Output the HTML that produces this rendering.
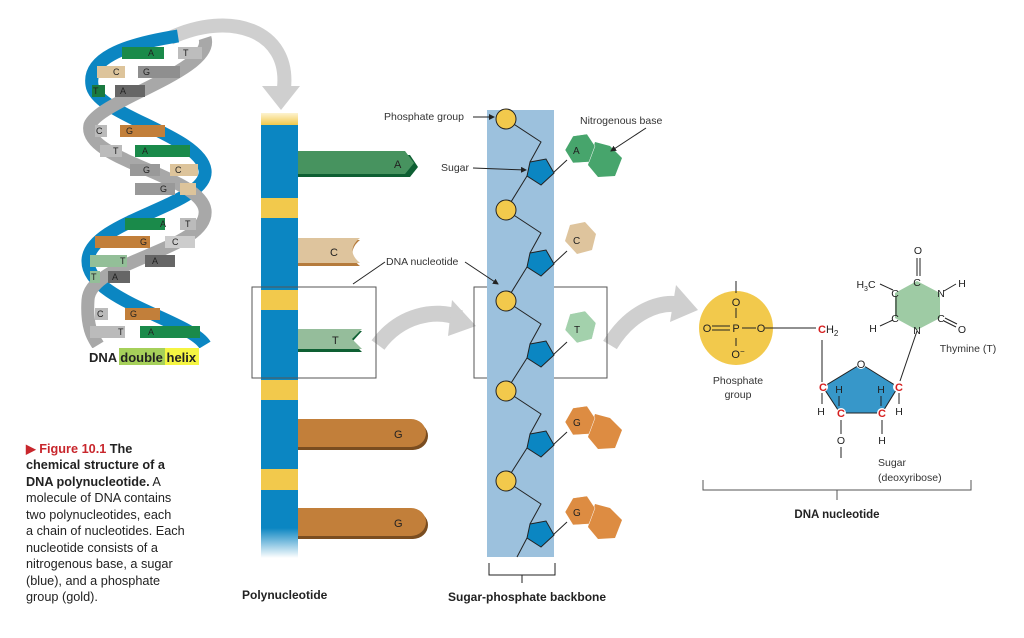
<!DOCTYPE html>
<html><head><meta charset="utf-8"><style>
html,body{margin:0;padding:0;background:#fff;}
svg{display:block;font-family:"Liberation Sans",sans-serif;}
</style></head><body>
<svg width="1024" height="638" viewBox="0 0 1024 638" xmlns="http://www.w3.org/2000/svg">
<defs>
<linearGradient id="topfade" x1="0" y1="0" x2="0" y2="1"><stop offset="0" stop-color="#fdf3d0"/><stop offset="1" stop-color="#f2c94c"/></linearGradient>
<linearGradient id="botfade" x1="0" y1="0" x2="0" y2="1"><stop offset="0" stop-color="#0b86c2"/><stop offset="1" stop-color="#0b86c2" stop-opacity="0"/></linearGradient>
<marker id="ah" markerWidth="6" markerHeight="6" refX="5" refY="3" orient="auto"><path d="M0,0 L6,3 L0,6 z" fill="#222"/></marker>
</defs>

<!-- big gray arrows -->
<path d="M170,38 C230,10 290,30 284,88" fill="none" stroke="#cfcfcf" stroke-width="14"/>
<polygon points="262,86 300,86 281,110" fill="#cfcfcf"/>
<path d="M378,345 C400,315 435,308 460,318" fill="none" stroke="#cfcfcf" stroke-width="16"/>
<polygon points="452,300 476,326 448,336" fill="#cfcfcf"/>
<path d="M610,345 C630,312 660,300 682,305" fill="none" stroke="#cfcfcf" stroke-width="16"/>
<polygon points="676,285 698,310 670,322" fill="#cfcfcf"/>

<!-- helix -->
<g>
<path d="M178,36 C120,45 88,60 92,85 C96,115 200,135 205,170 C210,205 90,220 88,260 C86,300 190,320 205,345" fill="none" stroke="#0b86c2" stroke-width="13"/>
<path d="M205,38 C215,70 100,100 90,125 C82,160 200,175 205,210 C210,250 90,260 88,300 C86,330 95,340 98,345" fill="none" stroke="#a8a8a8" stroke-width="13"/>
<g font-size="9" fill="#222">
<rect x="122" y="47" width="42" height="12" fill="#1a8a4a"/><text x="148" y="56">A</text><rect x="178" y="47" width="24" height="12" fill="#bdbdbd"/><text x="183" y="56">T</text>
<rect x="97" y="66" width="28" height="12" fill="#ddc49b"/><text x="113" y="75">C</text><rect x="138" y="66" width="42" height="12" fill="#8f8f8f"/><text x="143" y="75">G</text>
<rect x="92" y="85" width="13" height="12" fill="#1a7a40"/><text x="93" y="94">T</text><rect x="115" y="85" width="30" height="12" fill="#666"/><text x="120" y="94">A</text>
<rect x="95" y="125" width="12" height="12" fill="#bbb"/><text x="96" y="134">C</text><rect x="120" y="125" width="45" height="12" fill="#c27f3a"/><text x="126" y="134">G</text>
<rect x="100" y="145" width="22" height="12" fill="#bbb"/><text x="113" y="154">T</text><rect x="135" y="145" width="55" height="12" fill="#1a8a4a"/><text x="142" y="154">A</text>
<rect x="130" y="164" width="30" height="12" fill="#999"/><text x="143" y="173">G</text><rect x="170" y="164" width="28" height="12" fill="#ddc49b"/><text x="175" y="173">C</text>
<rect x="135" y="183" width="40" height="12" fill="#999"/><text x="160" y="192">G</text><rect x="180" y="183" width="16" height="12" fill="#ddc49b"/>
<rect x="125" y="218" width="40" height="12" fill="#1a8a4a"/><text x="160" y="227">A</text><rect x="180" y="218" width="16" height="12" fill="#bbb"/><text x="185" y="227">T</text>
<rect x="95" y="236" width="55" height="12" fill="#c27f3a"/><text x="140" y="245">G</text><rect x="165" y="236" width="30" height="12" fill="#ccc"/><text x="172" y="245">C</text>
<rect x="90" y="255" width="37" height="12" fill="#93bf98"/><text x="120" y="264">T</text><rect x="145" y="255" width="30" height="12" fill="#666"/><text x="152" y="264">A</text>
<rect x="90" y="271" width="10" height="12" fill="#93bf98"/><text x="91" y="280">T</text><rect x="108" y="271" width="22" height="12" fill="#666"/><text x="112" y="280">A</text>
<rect x="95" y="308" width="13" height="12" fill="#bbb"/><text x="97" y="317">C</text><rect x="125" y="308" width="35" height="12" fill="#c27f3a"/><text x="130" y="317">G</text>
<rect x="90" y="326" width="35" height="12" fill="#bbb"/><text x="118" y="335">T</text><rect x="140" y="326" width="60" height="12" fill="#1a8a4a"/><text x="148" y="335">A</text>
</g>
</g>
<rect x="86" y="348" width="120" height="18" fill="#fff"/>
<rect x="119" y="348" width="46" height="17" fill="#a6d05a"/>
<rect x="165" y="348" width="34" height="17" fill="#f5f542"/>
<text x="89" y="362" font-size="13" font-weight="bold" fill="#222">DNA double helix</text>

<!-- polynucleotide bar -->
<rect x="261" y="125" width="37" height="403" fill="#0b86c2"/>
<rect x="261" y="528" width="37" height="30" fill="url(#botfade)"/>
<rect x="261" y="113" width="37" height="12" fill="url(#topfade)"/>
<rect x="261" y="198" width="37" height="20" fill="#f2c94c"/>
<rect x="261" y="290" width="37" height="20" fill="#f2c94c"/>
<rect x="261" y="380" width="37" height="20" fill="#f2c94c"/>
<rect x="261" y="469" width="37" height="21" fill="#f2c94c"/>
<!-- A -->
<polygon points="298,155 410,155 418,167 410,177 298,177" fill="#0e5f33"/>
<polygon points="298,151 405,151 414,163 405,174 298,174" fill="#47935f"/>
<text x="394" y="168" font-size="11" fill="#222">A</text>
<!-- C -->
<path d="M298,240 L360,240 C350,248 350,258 360,266 L298,266 Z" fill="#b57b3c"/>
<path d="M298,238 L360,238 C350,246 350,255 360,263 L298,263 Z" fill="#dec49d"/>
<text x="330" y="256" font-size="11" fill="#222">C</text>
<!-- T -->
<polygon points="298,331 362,331 352,342 362,352 298,352" fill="#0e5f33"/>
<polygon points="298,329 362,329 352,339 362,349 298,349" fill="#95bd9b"/>
<text x="332" y="344" font-size="11" fill="#222">T</text>
<!-- G -->
<path d="M298,422 L413,422 A15,14 0 0 1 413,450 L298,450 Z" fill="#7a4d20"/>
<path d="M298,419 L411,419 A15,14 0 0 1 411,447 L298,447 Z" fill="#c27f3a"/>
<text x="394" y="438" font-size="11" fill="#222">G</text>
<path d="M298,511 L413,511 A15,14 0 0 1 413,539 L298,539 Z" fill="#7a4d20"/>
<path d="M298,508 L411,508 A15,14 0 0 1 411,536 L298,536 Z" fill="#c27f3a"/>
<text x="394" y="527" font-size="11" fill="#222">G</text>
<text x="242" y="599" font-size="12" font-weight="bold" fill="#222">Polynucleotide</text>

<!-- boxes -->
<rect x="252" y="287" width="124" height="91" fill="none" stroke="#555" stroke-width="1"/>
<rect x="474" y="287" width="133" height="91" fill="none" stroke="#555" stroke-width="1"/>

<!-- backbone -->
<rect x="487" y="110" width="67" height="447" fill="#9cc1dd"/>
<g stroke="#222" stroke-width="1">
<line x1="527" y1="176" x2="506" y2="210"/>
<line x1="527" y1="267" x2="506" y2="301"/>
<line x1="527" y1="358" x2="506" y2="391"/>
<line x1="527" y1="448" x2="506" y2="481"/>
<line x1="527" y1="538" x2="517" y2="557"/>
</g>
<g id="u">
<polyline points="506,119 541,142 530,162" fill="none" stroke="#222" stroke-width="1"/>
<line x1="553" y1="173" x2="567" y2="160" stroke="#222" stroke-width="1"/>
<circle cx="506" cy="119" r="10" fill="#f2c94c" stroke="#222" stroke-width="1"/>
<polygon points="530,162 546,159 554,173 541,185 527,176" fill="#0b86c2" stroke="#222" stroke-width="1"/>
</g>
<use href="#u" transform="translate(0,91)"/>
<use href="#u" transform="translate(0,182)"/>
<use href="#u" transform="translate(0,272)"/>
<use href="#u" transform="translate(0,362)"/>
<!-- bases -->
<polygon points="595,142 610,146 622,158 615,176 598,177 588,165" fill="#47a56c"/>
<polygon points="573,136 587,134 595,146 589,162 573,163 565,150" fill="#47a56c" stroke="#fff" stroke-width="0.5"/>
<text x="573" y="154" font-size="10" fill="#222">A</text>
<polygon points="570,225 585,222 596,234 592,250 577,254 565,241" fill="#dec49d"/>
<text x="573" y="244" font-size="10" fill="#222">C</text>
<polygon points="570,314 585,311 596,323 592,339 577,343 565,330" fill="#a3d1ac" stroke="#fff" stroke-width="0.5"/>
<text x="574" y="333" font-size="10" fill="#222">T</text>
<g id="gb">
<polygon points="595,414 610,418 622,430 615,448 598,449 588,437" fill="#dd8c42"/>
<polygon points="573,408 587,406 595,418 589,434 573,435 565,422" fill="#dd8c42" stroke="#fff" stroke-width="0.5"/>
<text x="573" y="426" font-size="10" fill="#222">G</text>
</g>
<use href="#gb" transform="translate(0,90)"/>
<!-- labels -->
<g font-size="10.5" fill="#333">
<text x="384" y="120">Phosphate group</text>
<text x="441" y="171">Sugar</text>
<text x="580" y="124">Nitrogenous base</text>
<text x="386" y="265">DNA nucleotide</text>
</g>
<g stroke="#222" stroke-width="1" fill="none">
<line x1="473" y1="117" x2="494" y2="117" marker-end="url(#ah)"/>
<line x1="473" y1="168" x2="526" y2="170" marker-end="url(#ah)"/>
<line x1="646" y1="128" x2="611" y2="151" marker-end="url(#ah)"/>
<line x1="465" y1="262" x2="498" y2="284" marker-end="url(#ah)"/>
<line x1="385" y1="262" x2="353" y2="284"/>
<polyline points="489,563 489,575 555,575 555,563"/>
<line x1="522" y1="575" x2="522" y2="583"/>
</g>
<text x="448" y="601" font-size="12" font-weight="bold" fill="#222">Sugar-phosphate backbone</text>

<!-- chemistry -->
<circle cx="736" cy="328" r="37" fill="#f2c94c"/>
<g stroke="#222" stroke-width="1" fill="none">
<line x1="736" y1="281" x2="736" y2="293"/>
<line x1="736" y1="308" x2="736" y2="318"/>
<line x1="736" y1="338" x2="736" y2="346"/>
<line x1="712" y1="326" x2="730" y2="326"/><line x1="712" y1="330" x2="730" y2="330"/>
<line x1="742" y1="328" x2="756" y2="328"/>
<line x1="765" y1="328" x2="816" y2="328"/>
<line x1="822" y1="340" x2="822" y2="382"/>
</g>
<g font-size="11" fill="#222" text-anchor="middle">
<text x="736" y="306">O</text>
<text x="707" y="332">O</text>
<text x="736" y="332">P</text>
<text x="761" y="332">O</text>
<text x="738" y="358">O<tspan font-size="8" dy="-4">−</tspan></text>
</g>
<text x="818" y="333" font-size="11" fill="#222"><tspan fill="#d62020" font-weight="bold">C</tspan>H<tspan font-size="8" dy="3">2</tspan></text>
<text x="738" y="384" font-size="10.5" fill="#333" text-anchor="middle">Phosphate</text>
<text x="738" y="398" font-size="10.5" fill="#333" text-anchor="middle">group</text>
<!-- sugar ring -->
<polygon points="861,364 898,387 882,413 840,413 823,387" fill="#3797c9" stroke="#222" stroke-width="1"/>
<circle cx="861" cy="364" r="5" fill="#fff"/><text x="861" y="368" font-size="11" text-anchor="middle" fill="#222">O</text>
<g font-size="11" font-weight="bold" fill="#d62020" text-anchor="middle">
<circle cx="823" cy="387" r="5" fill="#fff"/><text x="823" y="391">C</text>
<circle cx="898" cy="387" r="5" fill="#fff"/><text x="899" y="391">C</text>
<circle cx="841" cy="413" r="5" fill="#fff"/><text x="841" y="417">C</text>
<circle cx="882" cy="413" r="5" fill="#fff"/><text x="882" y="417">C</text>
</g>
<g font-size="10.5" fill="#222" text-anchor="middle">
<text x="839" y="393">H</text><text x="881" y="393">H</text>
<text x="821" y="415">H</text><text x="899" y="415">H</text>
<text x="841" y="444">O</text><text x="882" y="444">H</text>
</g>
<g stroke="#222" stroke-width="1">
<line x1="839" y1="396" x2="839" y2="406"/><line x1="881" y1="396" x2="881" y2="406"/>
<line x1="822" y1="393" x2="822" y2="404"/><line x1="899" y1="393" x2="899" y2="404"/>
<line x1="841" y1="420" x2="841" y2="434"/><line x1="882" y1="420" x2="882" y2="434"/>
<line x1="841" y1="447" x2="841" y2="458"/>
<line x1="917" y1="331" x2="900" y2="381"/>
</g>
<!-- thymine -->
<polygon points="917,281 940,293 940,318 917,330 895,318 895,293" fill="#9ecba4"/>
<g stroke="#222" stroke-width="1" fill="none">
<line x1="917" y1="258" x2="917" y2="276"/><line x1="920" y1="258" x2="920" y2="276"/>
<line x1="880" y1="284" x2="893" y2="290"/>
<line x1="896" y1="296" x2="896" y2="316"/>
<line x1="893" y1="320" x2="880" y2="326"/>
<line x1="944" y1="291" x2="956" y2="284"/>
<line x1="945" y1="318" x2="957" y2="324"/><line x1="944" y1="321" x2="956" y2="327"/>
</g>
<g font-size="10.5" fill="#222" text-anchor="middle">
<text x="918" y="254">O</text>
<text x="917" y="286">C</text>
<text x="895" y="297">C</text>
<text x="941" y="297">N</text>
<text x="895" y="322">C</text>
<text x="941" y="322">C</text>
<text x="917" y="334">N</text>
<text x="866" y="288">H<tspan font-size="7" dy="3">3</tspan><tspan dy="-3">C</tspan></text>
<text x="962" y="287">H</text>
<text x="873" y="332">H</text>
<text x="962" y="333">O</text>
</g>
<text x="968" y="352" font-size="10.5" fill="#333" text-anchor="middle">Thymine (T)</text>
<text x="878" y="466" font-size="10.5" fill="#333">Sugar</text>
<text x="878" y="481" font-size="10.5" fill="#333">(deoxyribose)</text>
<g stroke="#555" stroke-width="1" fill="none">
<polyline points="703,480 703,490 971,490 971,480"/>
<line x1="837" y1="490" x2="837" y2="500"/>
</g>
<text x="837" y="518" font-size="11.5" font-weight="bold" fill="#222" text-anchor="middle">DNA nucleotide</text>

<!-- caption -->
<g font-size="12.7" fill="#222">
<text x="26" y="453"><tspan fill="#c8262c" font-weight="bold">▶ Figure 10.1</tspan><tspan font-weight="bold"> The</tspan></text>
<text x="26" y="469" font-weight="bold">chemical structure of a</text>
<text x="26" y="486"><tspan font-weight="bold">DNA polynucleotide.</tspan> A</text>
<text x="26" y="502">molecule of DNA contains</text>
<text x="26" y="519">two polynucleotides, each</text>
<text x="26" y="535">a chain of nucleotides. Each</text>
<text x="26" y="552">nucleotide consists of a</text>
<text x="26" y="568">nitrogenous base, a sugar</text>
<text x="26" y="585">(blue), and a phosphate</text>
<text x="26" y="601">group (gold).</text>
</g>
</svg>
</body></html>
